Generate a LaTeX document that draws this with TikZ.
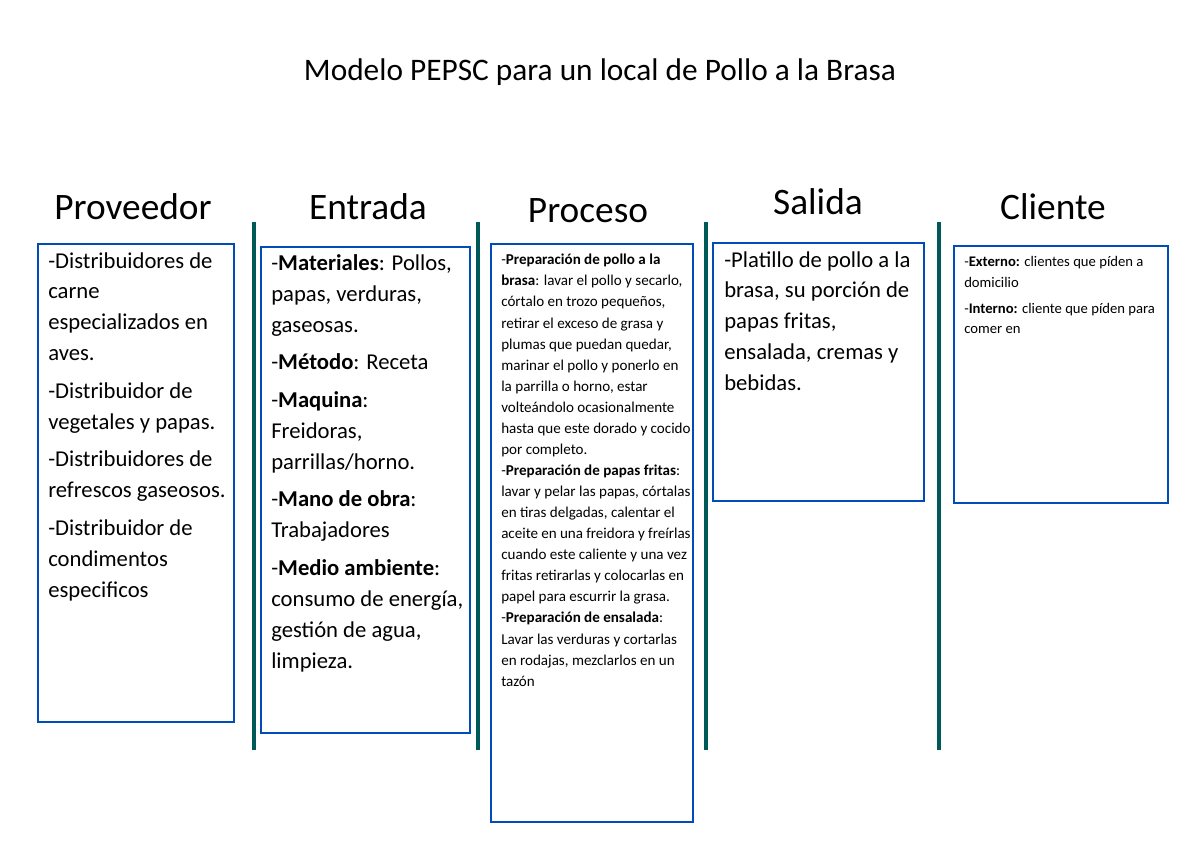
\documentclass[tikz,border=0pt]{standalone}
\usepackage{fontspec}
\setmainfont{Carlito}
\begin{document}
\begin{tikzpicture}[x=0.75pt,y=-0.75pt,
  box/.style={draw=blue!60!black!70!cyan,line width=1.2pt},
  bar/.style={draw=teal!70!black,line width=3.5pt},
  head/.style={font=\fontsize{28}{32}\selectfont},
  txt/.style={anchor=north west,align=flush left,inner sep=0pt}]
\useasboundingbox (0,0) rectangle (1200,849);
\node[font=\fontsize{23.5}{27}\selectfont] (title) at (600,72) {Modelo PEPSC para un local de Pollo a la Brasa};
\foreach \n/\x in {b1/254,b2/478,b3/706,b4/939}{
  \coordinate (\n t) at (\x,222); \coordinate (\n b) at (\x,750);
  \draw[bar] (\n t) -- (\n b);}
\node[head] (h1) at (133,207) {Proveedor};
\node[head] (h2) at (368,207) {Entrada};
\node[head] (h3) at (588,211) {Proceso};
\node[head] (h4) at (818,202) {Salida};
\node[head] (h5) at (1053,207) {Cliente};
\draw[box] (38,244) rectangle (234,722);
\draw[box] (261,247) rectangle (470,733);
\draw[box] (491,244) rectangle (693,822);
\draw[box] (713,243) rectangle (924,501);
\draw[box] (954,246) rectangle (1168,503);
\node[txt,text width=133pt,font=\fontsize{17}{23.2}\selectfont] (t1) at (48,252) {%
-Distribuidores de carne especializados en aves.\\[5pt]
-Distribuidor de vegetales y papas.\\[5pt]
-Distribuidores de refrescos gaseosos.\\[5pt]
-Distribuidor de condimentos especificos};
\node[txt,text width=145pt,font=\fontsize{17}{23.2}\selectfont] (t2) at (271,254) {%
-\textbf{Materiales}: Pollos, papas, verduras, gaseosas.\\[5pt]
-\textbf{Método}: Receta\\[5pt]
-\textbf{Maquina}: Freidoras, parrillas/horno.\\[5pt]
-\textbf{Mano de obra}: Trabajadores\\[5pt]
-\textbf{Medio ambiente}: consumo de energía, gestión de agua, limpieza.};
\node[txt,text width=142pt,font=\fontsize{11.3}{15.8}\selectfont] (t3) at (501,254) {%
-\textbf{Preparación de pollo a la brasa}: lavar el pollo y secarlo, córtalo en trozo pequeños, retirar el exceso de grasa y plumas que puedan quedar, marinar el pollo y ponerlo en la parrilla o horno, estar volteándolo ocasionalmente hasta que este dorado y cocido por completo.\\
-\textbf{Preparación de papas fritas}: lavar y pelar las papas, córtalas en tiras delgadas, calentar el aceite en una freidora y freírlas cuando este caliente y una vez fritas retirarlas y colocarlas en papel para escurrir la grasa.\\
-\textbf{Preparación de ensalada}:\\ Lavar las verduras y cortarlas en rodajas, mezclarlos en un tazón};
\node[txt,text width=148pt,font=\fontsize{17}{23.2}\selectfont] (t4) at (724,251) {%
-Platillo de pollo a la brasa, su porción de papas fritas, ensalada, cremas y bebidas.};
\node[txt,text width=150pt,font=\fontsize{11}{15.5}\selectfont] (t5) at (964,256) {%
-\textbf{Externo:} clientes que píden a domicilio\\[4pt]
-\textbf{Interno:} cliente que píden para comer en};
\end{tikzpicture}
\end{document}
